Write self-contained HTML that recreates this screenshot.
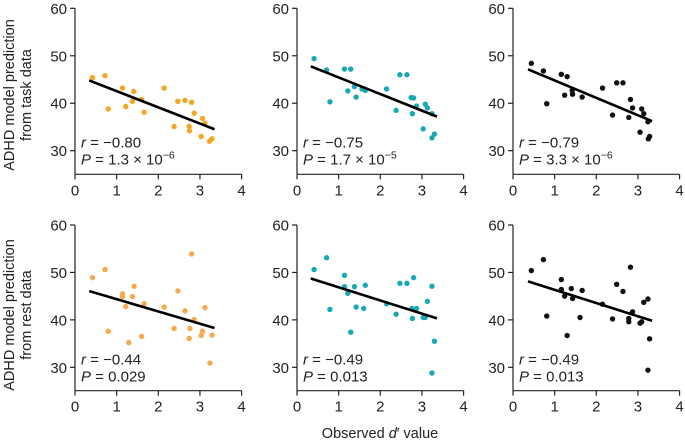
<!DOCTYPE html>
<html><head><meta charset="utf-8"><style>
html,body{margin:0;padding:0;background:#fff;}
svg{display:block;font-family:"Liberation Sans",sans-serif;}
</style></head><body>
<svg id="c" width="685" height="444" viewBox="0 0 685 444" xmlns="http://www.w3.org/2000/svg">
<text transform="translate(0,95) rotate(-90)" text-anchor="middle" font-size="14.5" fill="#222"><tspan x="0" y="14">ADHD model prediction</tspan><tspan x="0" y="31">from task data</tspan></text>
<text transform="translate(0,315) rotate(-90)" text-anchor="middle" font-size="14.5" fill="#222"><tspan x="0" y="14">ADHD model prediction</tspan><tspan x="0" y="31">from rest data</tspan></text>
<text x="380" y="438" text-anchor="middle" font-size="14.5" fill="#222">Observed <tspan font-style="italic">d</tspan>′ value</text>
</svg>
<script>
const xA=[0.42,0.72,0.80,1.14,1.22,1.41,1.38,1.60,1.66,2.14,2.38,2.47,2.64,2.74,2.75,2.80,2.86,3.06,3.12,3.03,3.23,3.29];
const yA=[45.4,45.8,38.8,43.2,39.3,42.5,40.4,40.8,38.1,43.2,35.1,40.4,40.6,35.1,34.2,40.2,37.9,36.8,35.8,33.0,32.0,32.5];
const xB=[0.41,0.71,0.79,1.14,1.29,1.22,1.38,1.42,1.56,1.64,2.15,2.38,2.47,2.64,2.74,2.80,2.77,2.87,3.03,3.08,3.13,3.24,3.24,3.30];
const yB=[49.4,47.0,40.3,47.2,47.2,42.6,43.5,41.3,43.0,42.7,43.0,38.5,46.0,46.0,41.2,41.1,37.8,39.4,34.6,39.8,39.0,37.8,32.7,33.5];
const xC=[0.44,0.73,0.81,1.16,1.30,1.24,1.42,1.43,1.66,2.15,2.39,2.49,2.64,2.78,2.82,2.87,3.05,3.09,3.14,3.24,3.25,3.28];
const yC=[48.4,46.8,39.9,46.1,45.6,41.7,42.7,41.9,41.3,43.2,37.5,44.3,44.3,37.0,40.8,39.0,33.9,38.8,37.8,36.1,32.5,33.0];
const xD=[0.42,0.72,0.80,1.14,1.14,1.22,1.29,1.38,1.42,1.60,1.66,2.14,2.38,2.47,2.64,2.76,2.74,2.80,2.86,3.06,3.03,3.12,3.24,3.29];
const yD=[48.9,50.6,37.6,45.5,44.9,42.8,35.2,44.9,47.1,36.5,43.4,42.7,38.2,46.1,41.9,38.2,36.1,53.9,40.1,37.6,36.7,42.6,30.9,36.8];
const xE=[0.41,0.71,0.79,1.14,1.14,1.22,1.29,1.38,1.42,1.60,1.64,2.15,2.38,2.47,2.64,2.80,2.77,2.87,2.76,3.03,3.08,3.13,3.24,3.30,3.24];
const yE=[50.6,53.1,42.2,49.4,47.0,45.6,37.4,47.0,42.7,42.4,47.3,43.4,41.2,47.7,47.7,48.9,40.3,42.4,42.4,40.5,40.5,43.9,47.1,35.5,28.8];
const xF=[0.44,0.73,0.81,1.16,1.16,1.24,1.30,1.40,1.43,1.61,1.66,2.15,2.39,2.49,2.64,2.82,2.78,2.78,2.87,3.05,3.09,3.14,3.24,3.28,3.24];
const yF=[50.4,52.7,40.8,48.5,46.4,45.0,36.7,46.6,44.5,40.5,46.2,43.3,40.2,47.5,46.0,51.1,40.3,39.6,41.7,39.3,39.6,43.7,44.4,36.0,29.4];
const xTicks=[0,1,2,3,4];
const yTicks=[30,40,50,60];
const rLabels=["−0.80","−0.75","−0.79","−0.44","−0.49","−0.49"];
const pLabels=[["1.3","−6"],["1.7","−5"],["3.3","−6"],["0.029"],["0.013"],["0.013"]];
const NS="http://www.w3.org/2000/svg";
const svg=document.getElementById('c');
function mk(t,a,p){const e=document.createElementNS(NS,t);for(const k in a)e.setAttribute(k,a[k]);(p||svg).appendChild(e);return e;}
const panels=[
 {xs:xA,ys:yA,ox:75,row:0,col:"#f5a623",name:"task-adhd-a"},
 {xs:xB,ys:yB,ox:297,row:0,col:"#19a9b6",name:"task-adhd-b"},
 {xs:xC,ys:yC,ox:513,row:0,col:"#111",name:"task-adhd-c"},
 {xs:xD,ys:yD,ox:75,row:1,col:"#f7a94c",name:"rest-adhd-a"},
 {xs:xE,ys:yE,ox:297,row:1,col:"#19a9b6",name:"rest-adhd-b"},
 {xs:xF,ys:yF,ox:513,row:1,col:"#111",name:"rest-adhd-c"}];
panels.forEach((P,i)=>{
 const y60=P.row?225:8.3, y30=P.row?367.3:150.7, axY=P.row?390.7:174.3;
 const X=v=>P.ox+v*41.65;
 const Y=v=>y30-(v-30)*(y30-y60)/30;
 const g=mk('g',{});
 
 
 const ya=mk('line',{x1:P.ox,y1:y60,x2:P.ox,y2:axY,stroke:'#222','stroke-width':1.2},g);
 
 
 const xa=mk('line',{x1:P.ox,y1:axY,x2:X(4),y2:axY,stroke:'#222','stroke-width':1.2},g);
 
 
 xTicks.forEach(t=>{
  mk('line',{x1:X(t),y1:axY,x2:X(t),y2:axY+5,stroke:'#222','stroke-width':1.2},g);
  const tx=mk('text',{x:X(t),y:axY+21,'text-anchor':'middle','font-size':15,fill:'#222'},g);
  tx.textContent=t;
  
  
 });
 yTicks.forEach(t=>{
  mk('line',{x1:P.ox-5,y1:Y(t),x2:P.ox,y2:Y(t),stroke:'#222','stroke-width':1.2},g);
  const tx=mk('text',{x:P.ox-8,y:Y(t)+5.5,'text-anchor':'end','font-size':15,fill:'#222'},g);
  tx.textContent=t;
  
  
 });
 P.xs.forEach((xv,j)=>{
  const c=mk('circle',{cx:X(xv),cy:Y(P.ys[j]),r:2.7,fill:P.col},g);
  
  
 });
 const n=P.xs.length;let mx=0,my=0;P.xs.forEach((v,j)=>{mx+=v;my+=P.ys[j];});mx/=n;my/=n;
 let sxy=0,sxx=0;P.xs.forEach((v,j)=>{sxy+=(v-mx)*(P.ys[j]-my);sxx+=(v-mx)*(v-mx);});
 const b=sxy/sxx,a=my-b*mx;
 const x0=Math.min(...P.xs)-0.08,x1=Math.max(...P.xs)+0.06;
 const ln=mk('line',{x1:X(x0),y1:Y(a+b*x0),x2:X(x1),y2:Y(a+b*x1),stroke:'#000','stroke-width':2.6},g);
 
 
 const t1=mk('text',{x:P.ox+6,y:Y(30)-3,'font-size':15,fill:'#222'},g);
 t1.innerHTML='<tspan font-style="italic">r</tspan> = '+rLabels[i];
 
 
 const t2=mk('text',{x:P.ox+6,y:Y(30)+14,'font-size':15,fill:'#222'},g);
 const pl=pLabels[i];
 t2.innerHTML='<tspan font-style="italic">P</tspan> = '+pl[0]+(pl.length>1?' × 10<tspan dy="-6" font-size="10.5">'+pl[1]+'</tspan>':'');
 
 
});
</script>
</body></html>
